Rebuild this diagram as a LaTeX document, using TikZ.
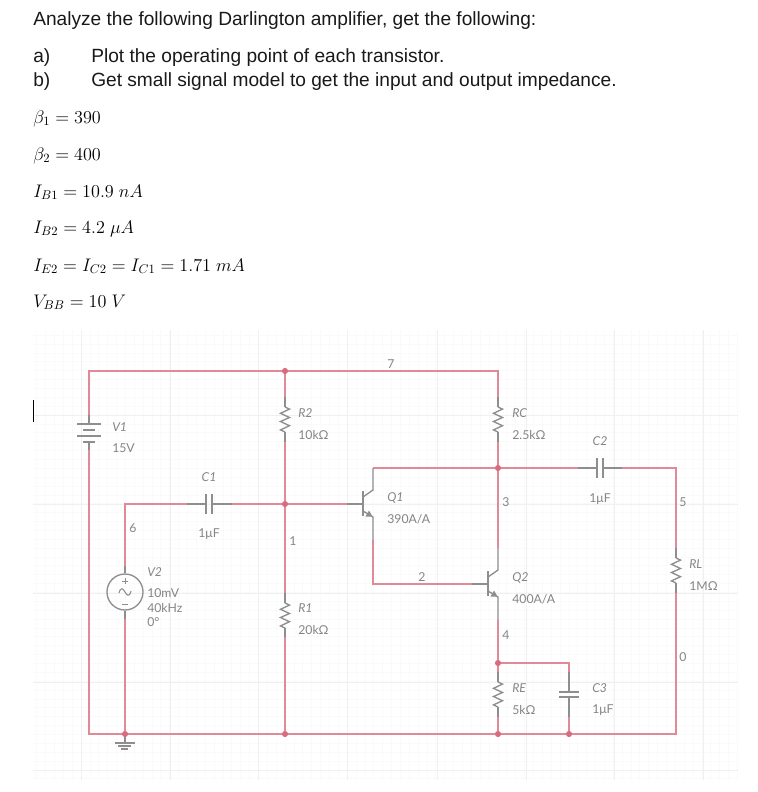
\documentclass[tikz,border=0pt]{standalone}
\usepackage{graphicx}
\usepackage{fontspec}
\setmainfont{Liberation Sans}
\newfontfamily\latofont{Lato}
\usetikzlibrary{calc,positioning}
\definecolor{wirered}{HTML}{DF8A96}
\definecolor{pingrey}{HTML}{8E8E8E}
\definecolor{dotred}{HTML}{D96B7D}
\definecolor{labelgrey}{HTML}{858585}
\definecolor{gridmajor}{HTML}{F0F0F0}
\definecolor{gridminor}{HTML}{FAFAFA}
\tikzset{
wire/.style={
  line width=1.1pt,
  draw=wirered,
  }
}
\tikzset{
lead/.style={
  line width=1pt,
  draw=pingrey,
  }
}
\tikzset{
plate/.style={
  line width=1.3pt,
  draw=pingrey,
  }
}
\tikzset{
dot/.style={
  circle,
  fill=dotred,
  inner sep=0pt,
  minimum size=4.6pt,
  }
}
\tikzset{
lbl/.style={
  font=\latofont\fontsize{9.2}{10}\selectfont,
  text=labelgrey,
  inner sep=0pt,
  anchor=west,
  }
}
\tikzset{
partname/.style={
  lbl,
  font=\latofont\itshape\fontsize{9.2}{10}\selectfont,
  }
}
\tikzset{
net/.style={
  lbl,
  anchor=center,
  }
}
\tikzset{
txt/.style={
  font=\fontsize{14.35}{16}\selectfont,
  text=black!90,
  inner sep=0pt,
  anchor=base west,
  }
}
\tikzset{
eqn/.style={
  font=\fontsize{14.4}{16}\selectfont,
  text=black,
  inner sep=0pt,
  anchor=base west,
  }
}
% math line at the size of the question text
\newcommand{\eqline}[1]{\scalebox{0.947}{$#1$}}
% zigzag between two named ends
\newcommand{\zigzagv}[1]{
  \draw[lead] (#1) ++(0,-12.5) -- ++(4.5,2.1) -- ++(-9,4.2) -- ++(9,4.2) -- ++(-9,4) -- ++(9,4.2) -- ++(-9,4.2) -- ++(4.5,2.1);
}

\begin{document}
\begin{tikzpicture}[x=0.75pt,y=-0.75pt]
    \useasboundingbox (0,0) rectangle (757,792);
    \fill[white] (0,0) rectangle (757,792);

    % question text
    \node[txt] (title) at (33,26) {Analyze the following Darlington amplifier, get the following:};
    \node[txt] (item_a) at (33,63) {a)};
    \node[txt] (text_a) at (91,63) {Plot the operating point of each transistor.};
    \node[txt] (item_b) at (33,87) {b)};
    \node[txt] (text_b) at (91,87) {Get small signal model to get the input and output impedance.};
    \node[eqn] (beta_1) at (33,123) {\eqline{\beta_1 = 390}};
    \node[eqn] (beta_2) at (33,160) {\eqline{\beta_2 = 400}};
    \node[eqn] (i_b1) at (33,197) {\eqline{I_{B1} = 10.9\ nA}};
    \node[eqn] (i_b2) at (33,233) {\eqline{I_{B2} = 4.2\ \mu A}};
    \node[eqn] (i_e2) at (33,271) {\eqline{I_{E2} = I_{C2} = I_{C1} = 1.71\ mA}};
    \node[eqn] (v_bb) at (33,307) {\eqline{V_{BB} = 10\ V}};

    % schematic grid
    \foreach \i in {0,...,79} {
      \draw[gridminor, line width=0.5pt] ({36.65+8.87*\i},330) -- ({36.65+8.87*\i},780);
    }
    \foreach \i in {0,...,50} {
      \draw[gridminor, line width=0.5pt] (33,{335.2+8.87*\i}) -- (738,{335.2+8.87*\i});
    }
    \foreach \x in {81,170,258,347,437,526,614,703} {
      \draw[gridmajor, line width=0.7pt] (\x,330) -- (\x,780);
    }
    \foreach \y in {415,504,593,682,770} {
      \draw[gridmajor, line width=0.7pt] (33,\y) -- (738,\y);
    }

    % cursor mark
    \coordinate (cur_a) at (33,400);
    \coordinate (cur_b) at (33,422);
    \draw[black, line width=0.7pt] (cur_a) -- (cur_b);

    % junctions
    \node[dot] (j_top) at (285,371) {};
    \node[dot] (j_base) at (285,504) {};
    \node[dot] (j_out) at (498,468) {};
    \node[dot] (j_re) at (498,663) {};
    \node[dot] (j_gnd) at (125,734) {};
    \node[dot] (j_r1) at (285,734) {};
    \node[dot] (j_rbot) at (498,734) {};
    \node[dot] (j_c3) at (569,734) {};

    % corners
    \coordinate (top_l) at (89,371);
    \coordinate (top_r) at (498,371);
    \coordinate (bot_l) at (89,734);
    \coordinate (bot_r) at (676,734);
    \coordinate (in_c) at (125,504);
    \coordinate (out_c) at (676,468);
    \coordinate (q1_c) at (373,468);
    \coordinate (q1_e) at (373,540);
    \coordinate (mid_c) at (373,584);
    \coordinate (c3_c) at (569,663);

    % component ends
    \coordinate (v1_a) at (89,415);
    \coordinate (v1_b) at (89,450);
    \coordinate (v2_a) at (125,566);
    \coordinate (v2_b) at (125,619);
    \coordinate (c1_a) at (187,504);
    \coordinate (c1_b) at (232,504);
    \coordinate (r2_a) at (285,397);
    \coordinate (r2_b) at (285,442);
    \coordinate (r1_a) at (285,593);
    \coordinate (r1_b) at (285,637);
    \coordinate (rc_a) at (498,397);
    \coordinate (rc_b) at (498,442);
    \coordinate (c2_a) at (578,468);
    \coordinate (c2_b) at (622,468);
    \coordinate (rl_a) at (676,548);
    \coordinate (rl_b) at (676,593);
    \coordinate (re_a) at (498,672);
    \coordinate (re_b) at (498,717);
    \coordinate (c3_a) at (569,672);
    \coordinate (c3_b) at (569,717);
    \coordinate (q1_b) at (347,504);
    \coordinate (q2_b) at (472,584);
    \coordinate (q2_c) at (498,548);
    \coordinate (q2_e) at (498,620);

    % wires
    \draw[wire] (v1_a) -- (top_l) -- (j_top) -- (top_r) -- (rc_a);
    \draw[wire] (v1_b) -- (bot_l) -- (j_gnd) -- (j_r1) -- (j_rbot) -- (j_c3) -- (bot_r) -- (rl_b);
    \draw[wire] (j_top) -- (r2_a);
    \draw[wire] (r2_b) -- (j_base) -- (r1_a);
    \draw[wire] (r1_b) -- (j_r1);
    \draw[wire] (c1_b) -- (j_base) -- (q1_b);
    \draw[wire] (c1_a) -- (in_c) -- (v2_a);
    \draw[wire] (v2_b) -- (j_gnd);
    \draw[wire] (rc_b) -- (j_out) -- (q2_c);
    \draw[wire] (q1_c) -- (j_out) -- (c2_a);
    \draw[wire] (c2_b) -- (out_c) -- (rl_a);
    \draw[wire] (q1_e) -- (mid_c) -- (q2_b);
    \draw[wire] (q2_e) -- (j_re) -- (re_a);
    \draw[wire] (j_re) -- (c3_c) -- (c3_a);
    \draw[wire] (re_b) -- (j_rbot);
    \draw[wire] (c3_b) -- (j_c3);

    % V1
    \draw[lead] (v1_a) -- (89,424);
    \draw[lead] (89,442) -- (v1_b);
    \draw[plate] (77,424) -- (101,424);
    \draw[plate] (83,430) -- (95,430);
    \draw[plate] (77,436) -- (101,436);
    \draw[plate] (83,442) -- (95,442);

    % V2
    \node[circle, draw=pingrey, line width=1pt, minimum size=27pt, inner sep=0pt] (v2) at (125,592) {};
    \draw[lead] (v2_a) -- (v2);
    \draw[lead] (v2) -- (v2_b);
    \draw[lead, line width=0.7pt] (122,581) -- (128,581) (125,578) -- (125,584);
    \draw[lead, line width=0.7pt] (122,604) -- (128,604);
    \draw[lead, line width=0.8pt] (119,593) .. controls (121,586) and (123,589) .. (125,592) .. controls (127,595) and (129,598) .. (131,591);

    % ground
    \coordinate (gnd_a) at (125,743);
    \draw[lead] (j_gnd) -- (gnd_a);
    \draw[lead] (115,743) -- (135,743);
    \draw[lead] (118,746) -- (131,746);
    \draw[lead] (121,749) -- (128,749);

    % resistors
    \draw[lead] (r2_a) -- (285,407) (285,432) -- (r2_b);
    \zigzagv{285,419.5}
    \draw[lead] (r1_a) -- (285,603) (285,628) -- (r1_b);
    \zigzagv{285,615.5}
    \draw[lead] (rc_a) -- (498,407) (498,432) -- (rc_b);
    \zigzagv{498,419.5}
    \draw[lead] (rl_a) -- (676,558) (676,583) -- (rl_b);
    \zigzagv{676,570.5}
    \draw[lead] (re_a) -- (498,682) (498,707) -- (re_b);
    \zigzagv{498,694.5}

    % capacitors
    \draw[lead] (c1_a) -- (206,504) (212,504) -- (c1_b);
    \draw[plate] (206,494) -- (206,514);
    \draw[plate] (212,494) -- (212,514);
    \draw[lead] (c2_a) -- (597,468) (603,468) -- (c2_b);
    \draw[plate] (597,458) -- (597,478);
    \draw[plate] (603,458) -- (603,478);
    \draw[lead] (c3_a) -- (569,692) (569,697) -- (c3_b);
    \draw[plate] (559,692) -- (579,692);
    \draw[plate] (559,697) -- (579,697);

    % Q1
    \draw[lead] (q1_b) -- (363,504);
    \draw[plate] (363,491) -- (363,516);
    \draw[lead] (363,497) -- (373,490) -- (q1_c);
    \draw[lead] (363,511) -- (373,517) -- (q1_e);
    \fill[pingrey] (372.5,516.5) -- (365.5,516.5) -- (369,510.5) -- cycle;

    % Q2
    \draw[lead] (q2_b) -- (488,584);
    \draw[plate] (488,571) -- (488,596);
    \draw[lead] (488,577) -- (498,570) -- (q2_c);
    \draw[lead] (488,591) -- (498,597) -- (q2_e);
    \fill[pingrey] (497.5,596.5) -- (490.5,596.5) -- (494,590.5) -- cycle;

    % labels
    \node[partname] (v1_name) at (112,427) {V1};
    \node[lbl] (v1_val) at (112,448) {15V};
    \node[partname] (r2_name) at (298,413) {R2};
    \node[lbl] (r2_val) at (298,435) {10kΩ};
    \node[partname, anchor=center] (c1_name) at (209,477) {C1};
    \node[net] (c1_val) at (209,534) {1μF};
    \node[net] (n6) at (133,528) {6};
    \node[net] (n1) at (293,541) {1};
    \node[partname] (v2_name) at (147,572) {V2};
    \node[lbl] (v2_amp) at (147,593) {10mV};
    \node[lbl] (v2_f) at (147,608) {40kHz};
    \node[lbl] (v2_ph) at (147,622) {0°};
    \node[partname] (r1_name) at (298,608) {R1};
    \node[lbl] (r1_val) at (298,630) {20kΩ};
    \node[net] (n7) at (391,364) {7};
    \node[partname] (rc_name) at (512,413) {RC};
    \node[lbl] (rc_val) at (512,435) {2.5kΩ};
    \node[partname, anchor=center] (c2_name) at (600,441) {C2};
    \node[net] (c2_val) at (600,499) {1μF};
    \node[net] (n3) at (506,502) {3};
    \node[net] (n5) at (683,502) {5};
    \node[partname] (q1_name) at (387,498) {Q1};
    \node[lbl] (q1_val) at (387,519) {390A/A};
    \node[partname] (rl_name) at (689,564) {RL};
    \node[lbl] (rl_val) at (689,586) {1MΩ};
    \node[net] (n2) at (422,577) {2};
    \node[partname] (q2_name) at (512,578) {Q2};
    \node[lbl] (q2_val) at (512,599) {400A/A};
    \node[net] (n4) at (506,635) {4};
    \node[net] (n0) at (683,657) {0};
    \node[partname] (re_name) at (512,688) {RE};
    \node[lbl] (re_val) at (512,710) {5kΩ};
    \node[partname] (c3_name) at (592,688) {C3};
    \node[lbl] (c3_val) at (592,710) {1μF};
\end{tikzpicture}
\end{document}
